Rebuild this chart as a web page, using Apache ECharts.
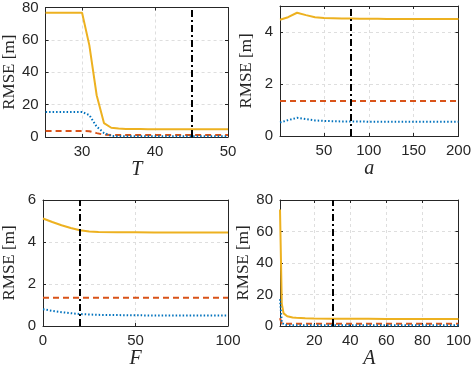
<!DOCTYPE html>
<html>
<head>
<meta charset="utf-8">
<script src="https://cdn.jsdelivr.net/npm/echarts@6/dist/echarts.min.js"></script>
<style>html,body{margin:0;padding:0;background:#fff}#c{width:474px;height:370px}</style>
</head>
<body>
<div id="c"></div>
<script>
// Panel 1: T
const xT = [25,26,27,28,29,30,31,32,33,34,35,36,37,38,39,40,41,42,43,44,45,46,47,48,49,50];
const yellowT = [76.7,76.7,76.7,76.7,76.7,76.7,56.6,25.8,8.6,5.7,5.2,5.0,4.9,4.9,4.8,4.8,4.8,4.8,4.8,4.8,4.8,4.8,4.8,4.8,4.8,4.8];
const redT = [3.7,3.7,3.7,3.7,3.7,3.7,3.6,2.4,1.4,1.3,1.3,1.3,1.3,1.3,1.3,1.3,1.3,1.3,1.3,1.3,1.3,1.3,1.3,1.3,1.3,1.3];
const blueT = [15.5,15.5,15.5,15.5,15.5,15.5,13.5,6.4,2.5,0.7,0.5,0.5,0.5,0.5,0.5,0.5,0.5,0.5,0.5,0.5,0.5,0.5,0.5,0.5,0.5,0.5];
// Panel 2: a
const xa = [1,10,20,30,40,50,60,70,80,90,100,110,120,130,140,150,160,170,180,190,200];
const yellowa = [4.47,4.57,4.74,4.65,4.57,4.54,4.53,4.52,4.52,4.51,4.51,4.51,4.5,4.5,4.5,4.5,4.5,4.5,4.5,4.5,4.5];
const reda = [1.35,1.35,1.35,1.35,1.35,1.35,1.35,1.35,1.35,1.35,1.35,1.35,1.35,1.35,1.35,1.35,1.35,1.35,1.35,1.35,1.35];
const bluea = [0.52,0.61,0.70,0.65,0.60,0.58,0.57,0.56,0.56,0.56,0.55,0.55,0.55,0.55,0.55,0.55,0.55,0.55,0.55,0.55,0.55];
// Panel 3: F
const xF = [0,5,10,15,20,25,30,40,50,60,70,80,90,100];
const yellowF = [5.12,4.95,4.8,4.67,4.56,4.5,4.48,4.46,4.46,4.45,4.45,4.45,4.45,4.45];
const redF = [1.34,1.34,1.34,1.34,1.34,1.34,1.34,1.34,1.34,1.34,1.34,1.34,1.34,1.34];
const blueF = [0.8,0.72,0.66,0.61,0.57,0.55,0.53,0.52,0.51,0.5,0.5,0.5,0.5,0.5];
// Panel 4: A
const xA = [1,2,3,4,5,6,8,10,15,20,30,40,50,60,70,80,90,100];
const yellowA = [74,14,8,6.8,6.2,5.8,5.4,5.2,4.9,4.75,4.6,4.55,4.55,4.52,4.5,4.5,4.5,4.5];
const redA = [5,1.5,1.35,1.35,1.35,1.35,1.35,1.35,1.35,1.35,1.35,1.35,1.35,1.35,1.35,1.35,1.35,1.35];
const blueA = [17,2,0.8,0.6,0.5,0.5,0.5,0.5,0.5,0.5,0.5,0.5,0.5,0.5,0.5,0.5,0.5,0.5];

// chosen parameter (vertical lines)
const chosen = [45, 80, 20, 30];
// axis names and ticks
const xNames = ['T','a','F','A'];
const xRanges = [[25,50],[1,200],[0,100],[1,100]];
const xTicks = [[30,40,50],[50,100,150,200],[0,50,100],[20,40,60,80,100]];
const yRanges = [[0,80],[0,5],[0,6],[0,80]];
const yIntervals = [20,2,2,20];

const panels = [
  {x:xT, y:yellowT, r:redT, b:blueT},
  {x:xa, y:yellowa, r:reda, b:bluea},
  {x:xF, y:yellowF, r:redF, b:blueF},
  {x:xA, y:yellowA, r:redA, b:blueA}
];

const grids = [
  {left:43, top:7, width:185, height:130},
  {left:280, top:6, width:181, height:130},
  {left:43, top:200, width:185, height:129},
  {left:280, top:200, width:180, height:129}
];

const axCol = '#262626';
const zip = (xs, ys) => xs.map((v,i)=>[v, ys[i]]);

const xAxes = [], yAxes = [];
panels.forEach((p,i)=>{
  xAxes.push({
    type:'value', gridIndex:i, min:xRanges[i][0], max:xRanges[i][1], position:'bottom',
    name: xNames[i], nameLocation:'middle', nameGap:23,
    nameTextStyle:{fontFamily:'Liberation Serif', fontStyle:'italic', fontSize:20, color:axCol},
    axisLine:{show:true, onZero:false, lineStyle:{color:axCol}},
    axisTick:{show:true, inside:true, length:3, lineStyle:{color:axCol}, customValues:xTicks[i]},
    axisLabel:{customValues:xTicks[i], fontFamily:'Liberation Sans', fontSize:15, color:axCol, margin:7},
    splitLine:{show:true, lineStyle:{color:'#dedede', type:[3,3], width:1}}, z:0
  });
  yAxes.push({
    type:'value', gridIndex:i, min:yRanges[i][0], max:yRanges[i][1], interval:yIntervals[i], position:'left',
    name:'RMSE [m]', nameLocation:'middle', nameGap:25, nameRotate:90,
    nameTextStyle:{fontFamily:'Liberation Serif', fontSize:17, color:axCol},
    axisLine:{show:true, onZero:false, lineStyle:{color:axCol}},
    axisTick:{show:true, inside:true, length:3, lineStyle:{color:axCol}},
    axisLabel:{fontFamily:'Liberation Sans', fontSize:15, color:axCol, margin:7, showMaxLabel: yRanges[i][1] % yIntervals[i] === 0},
    splitLine:{show:true, lineStyle:{color:'#dedede', type:[3,3], width:1}}, z:0
  });
});
// mirrored box axes (top / right)
panels.forEach((p,i)=>{
  xAxes.push({
    type:'value', gridIndex:i, min:xRanges[i][0], max:xRanges[i][1], position:'top',
    axisLine:{show:true, onZero:false, lineStyle:{color:axCol}},
    axisTick:{show:true, inside:true, length:3, lineStyle:{color:axCol}, customValues:xTicks[i]},
    axisLabel:{show:false}, splitLine:{show:false}, z:1
  });
  yAxes.push({
    type:'value', gridIndex:i, min:yRanges[i][0], max:yRanges[i][1], interval:yIntervals[i], position:'right',
    axisLine:{show:true, onZero:false, lineStyle:{color:axCol}},
    axisTick:{show:true, inside:true, length:3, lineStyle:{color:axCol}},
    axisLabel:{show:false}, splitLine:{show:false}, z:1
  });
});

const option = {
  animation: false,
  backgroundColor: '#fff',
  grid: grids.map(g => Object.assign({show:false, containLabel:false}, g)),
  xAxis: xAxes,
  yAxis: yAxes,
  series: []
};

panels.forEach((p,i)=>{
  option.series.push({
    type:'line', xAxisIndex:i, yAxisIndex:i, data:zip(p.x,p.y), symbol:'none',
    lineStyle:{color:'#EDB120', width:2}, z:3,
    markLine:{silent:true, symbol:['none','none'], label:{show:false},
      lineStyle:{color:'#000', width:2, type:[7,3,2,3]},
      data:[{xAxis:chosen[i]}], z:10}
  });
  option.series.push({
    type:'line', xAxisIndex:i, yAxisIndex:i, data:zip(p.x,p.r), symbol:'none',
    lineStyle:{color:'#D95319', width:2, type:[6,4]}, z:4
  });
  option.series.push({
    type:'line', xAxisIndex:i, yAxisIndex:i, data:zip(p.x,p.b), symbol:'none',
    lineStyle:{color:'#0072BD', width:2, type:[1.5,2]}, z:5
  });
});

const chart = echarts.init(document.getElementById('c'), null, {renderer:'canvas'});
chart.setOption(option);
</script>
</body>
</html>
